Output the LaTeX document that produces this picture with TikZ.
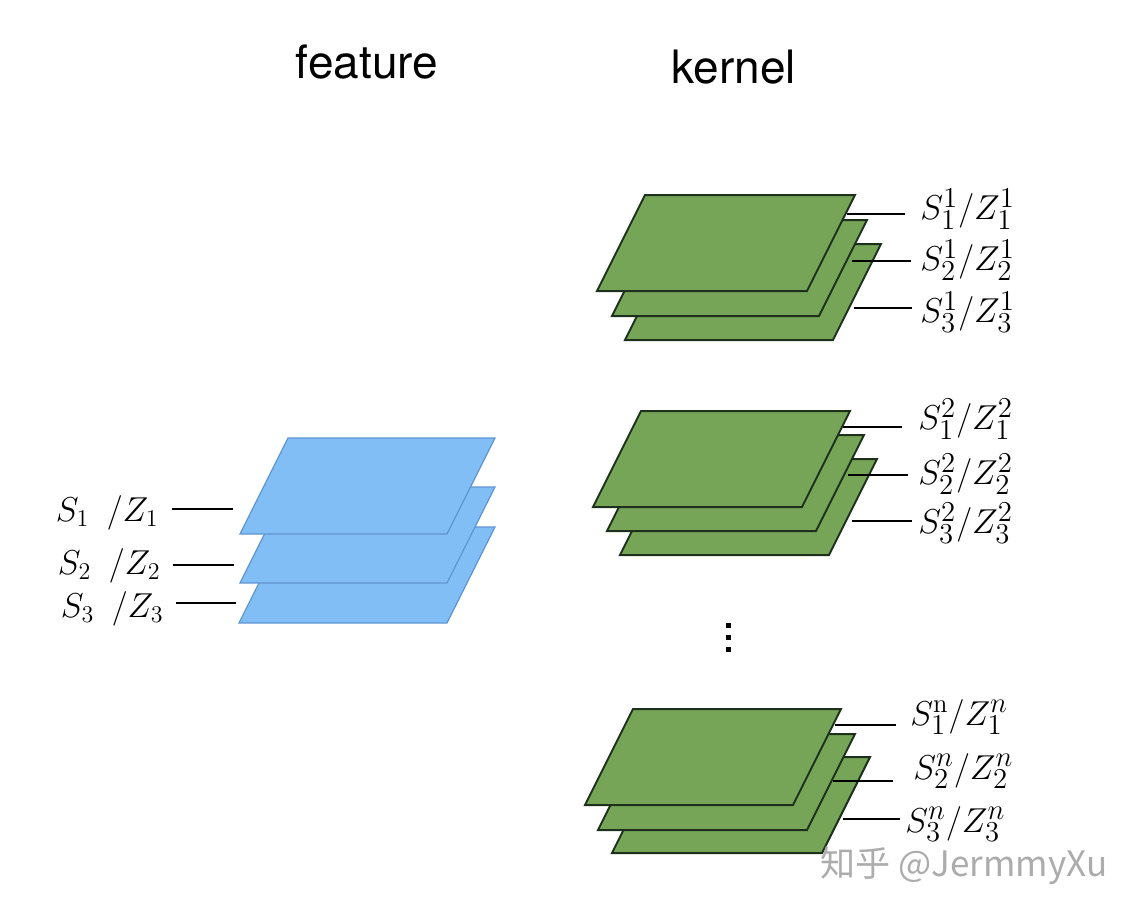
\documentclass[tikz,border=0pt]{standalone}
\usepackage{fontspec}
\newfontfamily\titlefont{TeX Gyre Heros}
\newfontfamily\cjkfont{Noto Sans CJK SC}
\definecolor{bluefill}{RGB}{128,190,245}
\definecolor{blueedge}{RGB}{95,150,210}
\definecolor{greenfill}{RGB}{118,165,88}
\definecolor{greenedge}{RGB}{28,48,28}
\definecolor{wmgray}{RGB}{172,172,172}
\newcommand{\drawsheet}[4]{\filldraw[#1] (#2,#3) -- ++(#4,0) -- ++(48,-96) -- ++(-#4,0) -- cycle;}
\begin{document}
\begin{tikzpicture}[x=0.5pt,y=-0.5pt,
  bluesheet/.style={fill=bluefill,draw=blueedge,line width=0.6pt,line join=miter},
  greensheet/.style={fill=greenfill,draw=greenedge,line width=1pt,line join=miter},
  leader/.style={draw=black,line width=1pt},
  title/.style={font=\titlefont\fontsize{23}{27}\selectfont,anchor=base,inner sep=0pt},
  glabel/.style={font=\fontsize{19}{23}\selectfont,anchor=west,inner sep=0pt},
  blabel/.style={font=\fontsize{17.5}{21}\selectfont,anchor=east,inner sep=0pt},
  dotmark/.style={fill=black}]
\useasboundingbox[fill=white] (0,0) rectangle (1132,916);

% titles
\node[title] (tfeat) at (367,78) {feature};
\node[title] (tkern) at (734,83) {kernel};

% feature stack (blue)
\drawsheet{bluesheet}{239}{623}{208}
\drawsheet{bluesheet}{240}{583}{207}
\drawsheet{bluesheet}{240}{534}{207}
\coordinate (fa) at (233,509); \coordinate (faL) at (172,509);
\coordinate (fb) at (234,565); \coordinate (fbL) at (173,565);
\coordinate (fc) at (236,603); \coordinate (fcL) at (176,603);
\draw[leader] (fa) -- (faL);
\draw[leader] (fb) -- (fbL);
\draw[leader] (fc) -- (fcL);
\node[blabel] (fla) at (159,513) {$S_1\enspace/Z_1$};
\node[blabel] (flb) at (161,566) {$S_2\enspace/Z_2$};
\node[blabel] (flc) at (164,609) {$S_3\enspace/Z_3$};

% kernel stack 1
\drawsheet{greensheet}{625}{340}{208}
\drawsheet{greensheet}{612}{316}{207}
\drawsheet{greensheet}{597}{291}{210}
\coordinate (ka) at (847,214); \coordinate (kaE) at (905,214);
\coordinate (kb) at (852,261); \coordinate (kbE) at (911,261);
\coordinate (kc) at (854,308); \coordinate (kcE) at (912,308);
\draw[leader] (ka) -- (kaE);
\draw[leader] (kb) -- (kbE);
\draw[leader] (kc) -- (kcE);
\node[glabel] (kla) at (920,209) {$S^1_1/Z^1_1$};
\node[glabel] (klb) at (920,260) {$S^1_2/Z^1_2$};
\node[glabel] (klc) at (920,312) {$S^1_3/Z^1_3$};

% kernel stack 2
\drawsheet{greensheet}{620}{555}{209}
\drawsheet{greensheet}{607}{531}{209}
\drawsheet{greensheet}{593}{507}{209}
\coordinate (ma) at (843,427); \coordinate (maE) at (902,427);
\coordinate (mb) at (848,475); \coordinate (mbE) at (908,475);
\coordinate (mc) at (852,521); \coordinate (mcE) at (912,521);
\draw[leader] (ma) -- (maE);
\draw[leader] (mb) -- (mbE);
\draw[leader] (mc) -- (mcE);
\node[glabel] (mla) at (918,419) {$S^2_1/Z^2_1$};
\node[glabel] (mlb) at (918,474) {$S^2_2/Z^2_2$};
\node[glabel] (mlc) at (918,523) {$S^2_3/Z^2_3$};

% vertical dots
\fill[dotmark] (726,623) rectangle (731,628);
\fill[dotmark] (726,635) rectangle (731,640);
\fill[dotmark] (726,647) rectangle (731,652);

% kernel stack n
\drawsheet{greensheet}{612}{853}{210}
\drawsheet{greensheet}{598}{830}{209}
\drawsheet{greensheet}{585}{805}{208}
\coordinate (na) at (835,725); \coordinate (naE) at (896,725);
\coordinate (nb) at (833,781); \coordinate (nbE) at (893,781);
\coordinate (nc) at (843,819); \coordinate (ncE) at (900,819);
\draw[leader] (na) -- (naE);
\draw[leader] (nb) -- (nbE);
\draw[leader] (nc) -- (ncE);
\node[glabel] (nla) at (910,717) {$S^{\mathrm{n}}_1/Z^n_1$};
\node[glabel] (nlb) at (913,771) {$S^n_2/Z^n_2$};
\node[glabel] (nlc) at (905,824) {$S^n_3/Z^n_3$};

% watermark
\node[font=\cjkfont\fontsize{17.5}{21}\selectfont,text=wmgray,inner sep=0pt] (wm) at (964,866) {知乎 @JermmyXu};
\end{tikzpicture}
\end{document}
